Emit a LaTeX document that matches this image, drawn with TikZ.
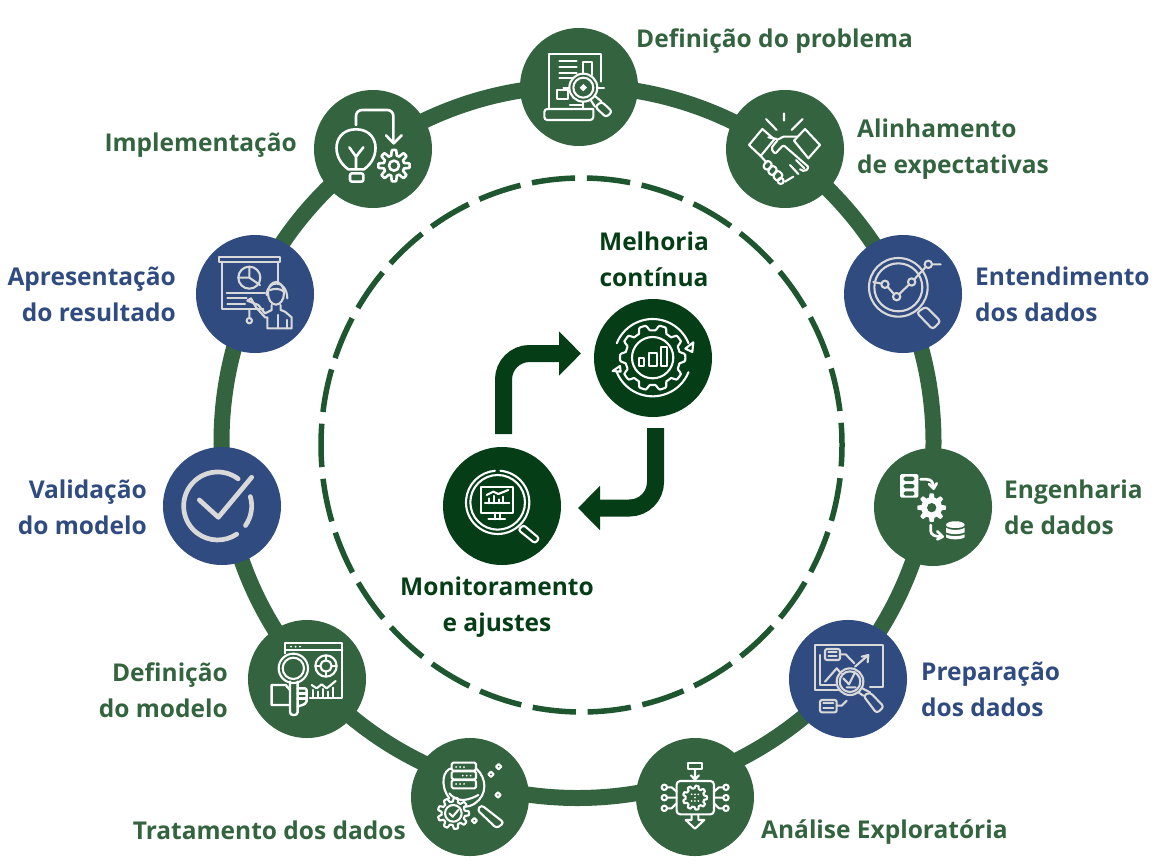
\documentclass[tikz,border=0pt]{standalone}
\usepackage{fontspec}
\usetikzlibrary{arrows.meta}
\setmainfont{Open Sans}
\definecolor{ringgreen}{HTML}{33633F}
\definecolor{stepblue}{HTML}{304B80}
\definecolor{deepgreen}{HTML}{053D17}
\definecolor{dashgreen}{HTML}{1E5630}
\definecolor{icongray}{HTML}{D9D9D9}
\newcommand{\gearpath}[3]{plot[domain=0:360,samples=145] (\x:{#1+#2*max(-1,min(1,2.2*cos(#3*\x)))})}
\tikzset{
  bubble/.style={circle,minimum size=118pt,inner sep=0pt,outer sep=0pt,fill=#1},
  steplabel/.style={font=\bfseries\fontsize{24.5}{36}\selectfont,inner sep=0pt,text=#1},
  bigarrow/.style={draw=deepgreen,line width=17pt,rounded corners=26pt,-{Triangle[length=22pt,width=43pt]}},
  iconwhite/.style={draw=white,line width=2.1pt,line join=round,line cap=round},
  icongrey/.style={draw=icongray,line width=2.1pt,line join=round,line cap=round}
}
\begin{document}
\begin{tikzpicture}[x=1pt,y=-1pt]
\useasboundingbox (0,0) rectangle (1166,865);

\coordinate (ringc) at (577.5,442);
\coordinate (dashc) at (581.5,445);
\draw[color=ringgreen,line width=16pt] (ringc) circle (356);
\draw[color=dashgreen,line width=5.5pt,dash pattern=on 43.5pt off 11.74pt,dash phase=22pt] (dashc) ellipse (260.5 and 267);

\node[bubble=ringgreen] (defprob) at (579,87) {};
\node[bubble=ringgreen] (alin) at (785,149) {};
\node[bubble=stepblue] (enten) at (903,294) {};
\node[bubble=ringgreen] (engen) at (933,507) {};
\node[bubble=stepblue] (prep) at (848,679) {};
\node[bubble=ringgreen] (anal) at (695,797) {};
\node[bubble=ringgreen] (trat) at (470,797) {};
\node[bubble=ringgreen] (defmod) at (307,679) {};
\node[bubble=stepblue] (valid) at (222,506) {};
\node[bubble=stepblue] (apres) at (255,294) {};
\node[bubble=ringgreen] (impl) at (373,149) {};
\node[bubble=deepgreen] (melh) at (653,358) {};
\node[bubble=deepgreen] (monit) at (502,506) {};

\draw[bigarrow,shorten <=13pt,shorten >=13pt] ([xshift=1.5pt]monit.north) |- ([yshift=4.5pt]melh.west);
\draw[bigarrow,shorten <=11pt,shorten >=17pt] ([xshift=2.5pt]melh.south) |- ([yshift=-2pt]monit.east);

\begin{scope}[shift={(300,10)},scale=0.3333,iconwhite]
\draw[rounded corners=3pt] (880,297) -- (733,297) -- (733,330) -- (880,330) -- (880,297);
\draw (748,297) -- (748,131) -- (902,131) -- (902,215);
\draw (778,152) -- (830,152) (778,170) -- (830,170) (778,188) -- (830,188) (778,205) -- (820,205);
\draw (848,190) -- (848,155) -- (875,155) -- (875,195);
\draw (850,233) circle (42) (850,233) circle (30);
\draw (850,172) -- (850,191) (850,275) -- (850,295) (790,235) -- (808,235) (893,235) -- (912,235);
\fill[white] (850,222) -- (861,233) -- (850,244) -- (839,233) --cycle;
\draw (770,240) rectangle (805,268);
\draw (810,285) -- (850,285);
\draw (872,270) -- (885,290) (885,258) -- (905,275);
\draw[rounded corners=3pt] (885,290) -- (905,275) -- (937,305) -- (918,322) --cycle;

\draw[line width=2.6pt] (145,478) .. controls (90,440) and (100,358) .. (168,358) .. controls (236,358) and (246,440) .. (192,478) --cycle;
\draw[line width=2.6pt,rounded corners=2pt] (150,490) rectangle (190,515);
\draw[line width=2.6pt] (168,478) -- (168,440) (148,412) -- (168,440) -- (190,412);
\draw[line width=2.6pt,rounded corners=6pt] (168,345) -- (168,300) -- (280,300) -- (280,396);
\draw[line width=2.6pt] (258,376) -- (281,400) -- (305,376);
\draw[line width=2.6pt,shift={(282,467)}] \gearpath{39}{8}{8} --cycle;
\draw[line width=2.6pt] (282,467) circle (15);
\end{scope}

\begin{scope}[shift={(710,80)},scale=0.3333,iconwhite]
\draw (222,100) -- (222,122) (168,117) -- (200,150) (278,117) -- (245,150);
\draw (117,195) -- (157,147) -- (193,178) -- (152,228) --cycle;
\draw (285,147) -- (330,195) -- (295,235) -- (252,182) --cycle;
\draw[rounded corners=2pt] (175,172) -- (205,178) -- (183,205) -- (195,222) -- (220,195) -- (297,262) -- (285,275) -- (270,268);
\draw (205,178) -- (220,170) -- (262,170);
\draw (152,228) -- (170,248);
\draw[rounded corners=2.5pt] (158,260) -- (172,240) -- (188,252) -- (172,272) --cycle;
\draw[rounded corners=2.5pt] (172,275) -- (188,255) -- (203,268) -- (187,288) --cycle;
\draw[rounded corners=2.5pt] (188,290) -- (203,270) -- (220,285) -- (203,305) --cycle;
\draw (212,303) circle (9);
\draw (225,305) -- (250,290) (240,255) -- (265,282) (258,240) -- (283,265);
\end{scope}

\begin{scope}[shift={(710,80)},scale=0.3333,icongrey]
\draw (565,622) circle (88) (565,622) circle (72);
\draw (525,613) circle (11) (560,650) circle (11) (605,606) circle (11) (655,553) circle (11);
\draw (490,606) -- (514,611) (533,621) -- (552,642) (568,642) -- (597,614) (613,598) -- (647,561) (666,553) -- (692,553);
\draw[rounded corners=3pt] (620,698) -- (648,680) -- (692,724) -- (668,748) --cycle;
\end{scope}

\begin{scope}[shift={(880,460)},scale=0.3333]
\fill[white,rounded corners=1.5pt] (60,42) rectangle (115,113);
\fill[ringgreen,rounded corners=1.5pt] (71,50) rectangle (103,63) (71,72) rectangle (103,85) (71,94) rectangle (103,107);
\draw[white,line width=2.7pt,line cap=round] (122,58) -- (140,58) .. controls (155,58) and (160,68) .. (160,82);
\draw[white,line width=2.7pt,line cap=round,line join=round] (147,72) -- (161,86) -- (170,70);
\fill[white,shift={(155,143)}] \gearpath{37}{6}{8} --cycle;
\fill[ringgreen] (155,143) circle (14);
\draw[white,line width=2.7pt,line cap=round] (152,195) -- (152,212) .. controls (152,225) and (165,230) .. (185,230);
\draw[white,line width=2.7pt,line cap=round,line join=round] (172,214) -- (188,230) -- (172,238);
\fill[white] (198,195) .. controls (198,180) and (254,180) .. (254,195) .. controls (254,207) and (198,207) .. (198,195) --cycle;
\fill[white] (198,203) .. controls (210,212) and (242,212) .. (254,203) -- (254,217) .. controls (242,224) and (210,224) .. (198,217) --cycle;
\fill[white] (198,223) .. controls (210,230) and (242,230) .. (254,223) -- (254,232) .. controls (242,240) and (210,240) .. (198,232) --cycle;
\end{scope}

\begin{scope}[shift={(805,635)},scale=0.3333,icongrey]
\draw (100,165) -- (30,165) -- (30,30) -- (235,30) -- (235,155) -- (195,155);
\draw (45,60) -- (45,150) -- (95,150);
\draw[rounded corners=2pt] (60,42) rectangle (105,75);
\draw (70,52) -- (95,52) (70,63) -- (95,63);
\draw (105,58) -- (122,58) -- (148,85);
\draw (60,140) -- (95,100) -- (108,115);
\draw (150,95) -- (190,60) (170,65) -- (190,60) -- (188,82);
\draw (135,140) circle (40) (135,140) circle (31);
\draw (115,130) -- (132,148) -- (150,112) (125,157) -- (152,157);
\draw (160,172) -- (175,182) (172,160) -- (195,172);
\draw[rounded corners=3pt] (175,182) -- (195,172) -- (237,215) -- (215,235) --cycle;
\draw[rounded corners=2pt] (45,195) rectangle (95,232);
\draw (55,205) -- (85,205) (55,218) -- (85,218);
\draw (95,212) -- (110,212) -- (125,197);
\end{scope}

\begin{scope}[shift={(400,640)},scale=0.3333,iconwhite]
\draw[rounded corners=3.5pt] (830,423) rectangle (942,523);
\draw[shift={(885,473)}] \gearpath{32}{4}{9} --cycle;
\fill[white] (875,463) circle (3) (895,463) circle (3) (885,473) circle (3) (875,483) circle (3) (895,483) circle (3) (885,463) circle (3) (885,483) circle (3);
\draw (865,368) rectangle (905,388);
\draw (885,390) -- (885,418) (873,406) -- (885,419) -- (897,406);
\draw (875,525) -- (875,540) -- (857,540) -- (885,566) -- (913,540) -- (895,540) -- (895,525);
\draw (793,442) circle (8) (793,473) circle (8) (793,505) circle (8);
\draw (801,442) -- (815,442) -- (830,455) (801,473) -- (830,473) (801,505) -- (815,505) -- (830,490);
\draw (978,442) circle (8) (978,473) circle (8) (978,505) circle (8);
\draw (970,442) -- (957,442) -- (942,455) (970,473) -- (942,473) (970,505) -- (957,505) -- (942,490);

\draw[rounded corners=1.5pt] (155,368) rectangle (228,392) (155,394) rectangle (228,418) (155,420) rectangle (228,445);
\fill[white] (168,381) circle (3) (180,381) circle (3) (192,381) circle (3) (188,407) circle (3) (200,407) circle (3) (212,407) circle (3) (168,432) circle (3) (180,432) circle (3) (192,432) circle (3);
\draw (148,475) .. controls (118,435) and (130,388) .. (155,385) (228,385) .. controls (262,415) and (262,465) .. (225,490) .. controls (215,497) and (205,500) .. (192,500);
\draw (148,460) .. controls (165,480) and (190,490) .. (235,465);
\draw[shift={(160,520)}] \gearpath{41}{6}{9} --cycle;
\draw (160,520) circle (25);
\draw (148,520) -- (158,530) -- (175,510);
\draw[rounded corners=3pt] (244,495) -- (232,510) -- (290,565) -- (312,548) --cycle;
\draw (296,372) -- (304,380) -- (296,388) -- (288,380) --cycle;
\draw (273,395) -- (281,403) -- (273,411) -- (265,403) --cycle;
\draw (294,457) -- (302,465) -- (294,473) -- (286,465) --cycle;
\draw (223,534) -- (231,542) -- (223,550) -- (215,542) --cycle;
\end{scope}

\begin{scope}[shift={(265,635)},scale=0.3333,iconwhite]
\draw (60,55) -- (60,25) -- (232,25) -- (232,190) -- (135,190);
\draw (62,45) -- (232,45);
\fill[white] (78,35) circle (3) (92,35) circle (3) (105,35) circle (3);
\draw (85,100) circle (44) (85,100) circle (32);
\draw (183,93) circle (32) (183,93) circle (17);
\draw (183,61) -- (183,76) (183,110) -- (183,125) (151,93) -- (166,93) (200,93) -- (215,93);
\draw (140,150) -- (155,160) -- (170,148) -- (185,160) -- (212,138);
\draw (145,185) -- (145,165) (160,185) -- (160,170) (175,185) -- (175,162) (190,185) -- (190,170) (205,185) -- (205,158);
\draw[line width=2.4pt] (20,150) -- (62,150) -- (75,165) (20,150) -- (20,210) -- (75,210);
\draw[line width=2.4pt,rounded corners=3pt] (75,140) -- (75,240) -- (98,240) -- (98,140);
\draw[line width=2.4pt,rounded corners=2pt] (98,160) -- (125,160) -- (125,205) -- (98,215);
\draw[line width=2.4pt] (98,175) -- (125,175) (98,190) -- (125,190);
\end{scope}

\begin{scope}[shift={(150,230)},scale=0.3333,icongrey]
\draw (208,80) rectangle (390,95);
\draw (385,95) -- (385,155) (215,95) -- (215,238) -- (340,238);
\draw (298,143) circle (33);
\draw (298,110) -- (298,143) -- (330,165) (298,143) -- (265,143);
\draw (230,190) -- (345,190) (232,205) -- (290,205) (232,222) -- (285,222);
\draw (298,238) -- (298,264) (298,272) circle (8);
\draw (378,190) ellipse (24 and 34);
\draw (350,195) .. controls (350,150) and (410,145) .. (412,205);
\draw (360,180) .. controls (375,175) and (390,175) .. (402,185);
\draw (292,212) -- (303,205) -- (318,232) -- (345,262) -- (352,262) -- (352,295) -- (425,295) -- (425,262) -- (405,245) -- (392,240) -- (392,225) (365,225) -- (365,240) -- (345,250) -- (325,225) -- (292,212);
\draw (385,295) -- (385,255) (410,295) -- (410,270);
\draw[line width=4.7pt] (203,828) ++(-53:102) arc (-53:-304:102);
\draw[line width=4.7pt] (203,828) ++(-16:102) arc (-16:35:102);
\draw[line width=4.7pt] (148,810) -- (205,862) -- (305,742);
\end{scope}

\begin{scope}[shift={(430,290)},scale=0.3333,iconwhite]
\draw[shift={(668,203)}] \gearpath{90}{8}{10} --cycle;
\draw (668,203) circle (62);
\draw (627,205) rectangle (643,228) (658,190) rectangle (680,228) (692,170) rectangle (712,228);
\draw (668,203) ++(-158:116) arc (-158:-22:116);
\draw (668,203) ++(22:116) arc (22:158:116);
\draw (766,176) -- (790,157) -- (787,186) --cycle;
\draw (570,228) -- (548,243) -- (572,245) --cycle;
\draw (203,637) ++(-85:95) arc (-85:265:95);
\draw (203,637) circle (82);
\draw (152,590) rectangle (248,668);
\draw (195,668) -- (195,688) (210,668) -- (210,688) (175,688) -- (225,688);
\draw (170,615) -- (190,605) -- (205,612) -- (235,600);
\draw (165,640) -- (238,640) (178,640) -- (178,625) (192,640) -- (192,618) (206,640) -- (206,628) (220,640) -- (220,620);
\draw[rounded corners=2.5pt] (265,720) -- (280,705) -- (328,745) -- (315,760) --cycle;
\end{scope}

\node[steplabel=ringgreen,anchor=west] (defprobtxt) at (636,41) {Definição do problema};
\node[steplabel=ringgreen,anchor=west,align=left] (alintxt) at (857,149) {Alinhamento\\de expectativas};
\node[steplabel=stepblue,anchor=west,align=left] (ententxt) at (975,294.5) {Entendimento\\dos dados};
\node[steplabel=ringgreen,anchor=west,align=left] (engentxt) at (1004,507.5) {Engenharia\\de dados};
\node[steplabel=stepblue,anchor=west,align=left] (preptxt) at (921,689) {Preparação\\dos dados};
\node[steplabel=ringgreen,anchor=west] (analtxt) at (761,832) {Análise Exploratória};
\node[steplabel=ringgreen,anchor=east] (trattxt) at (406,830) {Tratamento dos dados};
\node[steplabel=ringgreen,anchor=east,align=right] (defmodtxt) at (228,690) {Definição\\do modelo};
\node[steplabel=stepblue,anchor=east,align=right] (validtxt) at (147,507) {Validação\\do modelo};
\node[steplabel=stepblue,anchor=east,align=right] (aprestxt) at (176,294.5) {Apresentação\\do resultado};
\node[steplabel=ringgreen,anchor=east] (impltxt) at (297,145) {Implementação};
\node[steplabel=deepgreen,align=center] (melhtxt) at (654,259.5) {Melhoria\\contínua};
\node[steplabel=deepgreen,align=center] (monittxt) at (497,607) {Monitoramento\\e ajustes};

\end{tikzpicture}
\end{document}
